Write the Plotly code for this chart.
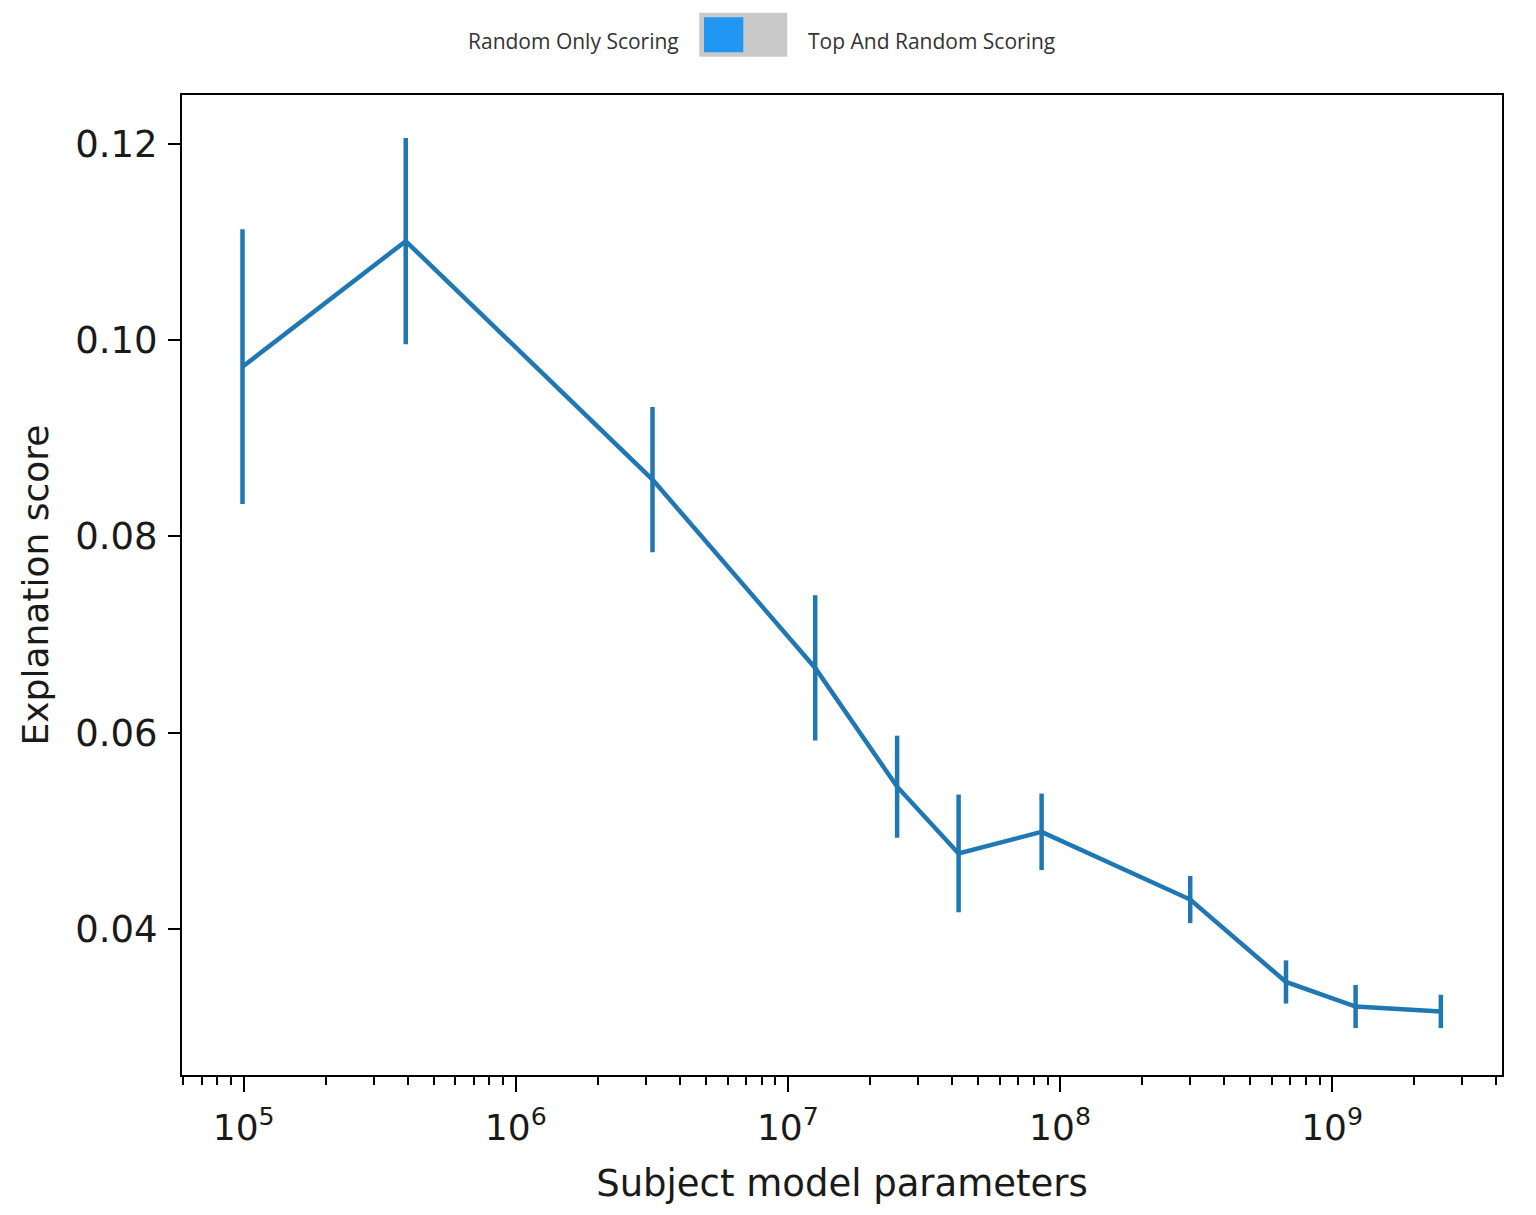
import plotly.graph_objects as go

# ---- data ----
params = [9.9e4, 3.94e5, 3.18e6, 1.26e7, 2.52e7, 4.24e7, 8.56e7, 3.01e8, 6.77e8, 1.22e9, 2.51e9]
scores = [0.0973, 0.1101, 0.0858, 0.0666, 0.0545, 0.0477, 0.0499, 0.0430, 0.0346, 0.0321, 0.0316]
errors = [0.0140, 0.0105, 0.0074, 0.0074, 0.0052, 0.0060, 0.0039, 0.0024, 0.0022, 0.0022, 0.0017]

x_tickvals = [1e5, 1e6, 1e7, 1e8, 1e9]
x_ticktext = ["10<sup>5</sup>", "10<sup>6</sup>", "10<sup>7</sup>", "10<sup>8</sup>", "10<sup>9</sup>"]
y_tickvals = [0.04, 0.06, 0.08, 0.10, 0.12]
y_ticktext = ["0.04", "0.06", "0.08", "0.10", "0.12"]
minor_vals = [m * 10 ** k for k in range(4, 10) for m in range(2, 10)]

toggle_left_label = "Random Only Scoring"
toggle_right_label = "Top And Random Scoring"

# ---- layout geometry (page pixels) ----
W, H = 1520, 1199          # figure size (body has 8px default margin)
OFF = 8
PL, PR, PT, PB = 182, 1502, 95, 1075   # plot area in window pixels


def px(xw):
    return (xw - PL) / (PR - PL)


def py(yw):
    return (PB - yw) / (PB - PT)


LINE = "#1f77b4"
FONT = "DejaVu Sans"
TXT = "#1a1a1a"

fig = go.Figure()
fig.add_trace(go.Scatter(
    x=params, y=scores, mode="lines",
    line=dict(color=LINE, width=4.5),
    error_y=dict(type="data", array=errors, visible=True, color=LINE, thickness=4.5, width=0),
    showlegend=False,
))

fig.update_layout(
    width=W, height=H,
    margin=dict(l=PL - OFF, r=OFF + W - PR, t=PT - OFF, b=OFF + H - PB, pad=0, autoexpand=False),
    paper_bgcolor="white", plot_bgcolor="white",
    font=dict(family=FONT, size=36, color=TXT),
    showlegend=False,
    xaxis=dict(
        type="log", range=[4.7733, 9.6244], automargin=False,
        tickmode="array", tickvals=x_tickvals, ticktext=x_ticktext,
        ticks="outside", ticklen=15, tickwidth=2, tickcolor="black",
        minor=dict(tickmode="array", tickvals=minor_vals, ticks="outside",
                   ticklen=8, tickwidth=1.5, tickcolor="black", showgrid=False),
        showline=True, linecolor="black", linewidth=2, mirror=True,
        showgrid=False, zeroline=False,
        ticklabelstandoff=5,
        tickfont=dict(family=FONT, size=36, color=TXT),
        title=dict(text="Subject model parameters", font=dict(family=FONT, size=37, color=TXT), standoff=23),
    ),
    yaxis=dict(
        range=[0.02512, 0.12499], automargin=False,
        tickmode="array", tickvals=y_tickvals, ticktext=y_ticktext,
        ticks="outside", ticklen=12, tickwidth=2, tickcolor="black",
        showline=True, linecolor="black", linewidth=2, mirror=True,
        showgrid=False, zeroline=False,
        ticklabelstandoff=3,
        tickfont=dict(family=FONT, size=37, color=TXT),
        title=dict(text="Explanation score", font=dict(family=FONT, size=36, color=TXT), standoff=16),
    ),
)

# toggle control above the chart
fig.add_shape(type="rect", xref="paper", yref="paper",
              x0=px(699.3), x1=px(787.3), y0=py(56.7), y1=py(12.7),
              fillcolor="#c9c9c9", line=dict(width=0), layer="above")
fig.add_shape(type="rect", xref="paper", yref="paper",
              x0=px(704), x1=px(743.3), y0=py(52.3), y1=py(17.3),
              fillcolor="#2196f3", line=dict(width=0), layer="above")
fig.add_annotation(text=toggle_left_label, xref="paper", yref="paper",
                   x=px(681), y=py(41), xanchor="right", yanchor="middle", showarrow=False,
                   font=dict(family="Open Sans", size=21, color="#333333"))
fig.add_annotation(text=toggle_right_label, xref="paper", yref="paper",
                   x=px(806), y=py(41), xanchor="left", yanchor="middle", showarrow=False,
                   font=dict(family="Open Sans", size=21, color="#333333"))

fig.write_html("out.html")
